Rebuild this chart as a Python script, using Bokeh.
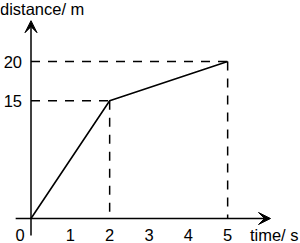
from bokeh.plotting import figure
from bokeh.models import Arrow, VeeHead, Range1d
from bokeh.core.properties import value
from bokeh.embed import file_html
from bokeh.resources import INLINE

# data
time = [0, 2, 5]
distance = [0, 15, 20]
x_ticks = [1, 2, 3, 4, 5]
x_tick_labels = ["1", "2", "3", "4", "5"]
y_ticks = [15, 20]
y_tick_labels = ["15", "20"]
x_title = "time/ s"
y_title = "distance/ m"

FONT = value("Liberation Sans")
FS = "16.5px"
W, H = 300, 243
# pixel scale chosen so the drawing matches the reference
ox, sx = 30.5, 39.33   # origin px, px per second
oy, sy = 218.0, 7.85   # origin px from top, px per metre

p = figure(width=W, height=H, output_backend="svg", toolbar_location=None,
           x_axis_type=None, y_axis_type=None, min_border=0,
           x_range=Range1d(-ox / sx, (W - ox) / sx),
           y_range=Range1d(-(H - oy) / sy, oy / sy))
p.outline_line_color = None
p.background_fill_color = "white"
p.border_fill_color = "white"

# axes with arrow heads
x_axis_start, x_axis_end = -0.39, 6.09
y_axis_start, y_axis_end = -2.17, 25.2
p.add_layout(Arrow(x_start=x_axis_start, y_start=0, x_end=x_axis_end, y_end=0,
                   line_color="black", line_width=1.5,
                   end=VeeHead(size=12, fill_color="black", line_color="black", line_width=1)))
p.add_layout(Arrow(x_start=0, y_start=y_axis_start, x_end=0, y_end=y_axis_end,
                   line_color="black", line_width=1.5,
                   end=VeeHead(size=12, fill_color="black", line_color="black", line_width=1)))

# dashed guide lines
for t, d in zip(time[1:], distance[1:]):
    p.line([0, t], [d, d], line_color="black", line_width=1.5, line_dash="9 8")
    p.line([t, t], [d, 0], line_color="black", line_width=1.5, line_dash="9 8")

# graph
p.line(time, distance, line_color="black", line_width=1.6)

# tick labels
p.text(x=x_ticks, y=[0] * len(x_ticks), text=x_tick_labels, text_font=FONT,
       text_font_size=FS, text_align="center", text_baseline="middle",
       y_offset=16, text_color="black")
p.text(x=[0], y=[0], text=["0"], text_font=FONT, text_font_size=FS,
       text_align="center", text_baseline="middle", x_offset=-11, y_offset=16,
       text_color="black")
p.text(x=[0] * len(y_ticks), y=y_ticks, text=y_tick_labels, text_font=FONT,
       text_font_size=FS, text_align="right", text_baseline="middle",
       x_offset=-9, text_color="black")

# axis titles
p.text(x=[x_axis_end], y=[0], text=[x_title], text_font=FONT, text_font_size=FS,
       text_align="right", text_baseline="middle", x_offset=28, y_offset=16,
       text_color="black")
p.text(x=[0], y=[y_axis_end], text=[y_title], text_font=FONT, text_font_size=FS,
       text_align="left", text_baseline="middle", x_offset=-31, y_offset=-12,
       text_color="black")

open("out.html", "w").write(file_html(p, INLINE))
